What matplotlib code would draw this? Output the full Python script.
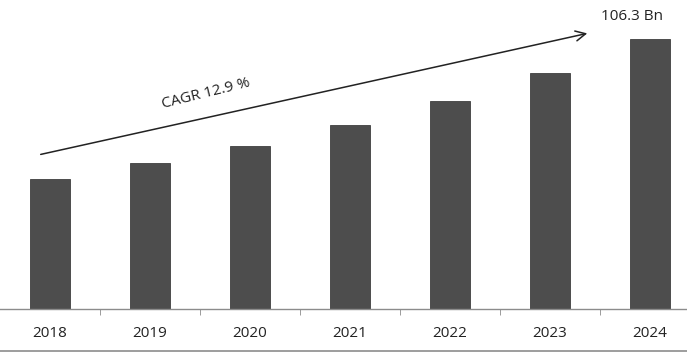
import matplotlib.pyplot as plt
import numpy as np

# data (USD Bn)
years = ['2018', '2019', '2020', '2021', '2022', '2023', '2024']
values = [51.2, 57.5, 64.2, 72.4, 81.9, 92.9, 106.3]
cagr_label = 'CAGR 12.9 %'
end_label = '106.3 Bn'

plt.rcParams['font.family'] = ['Open Sans', 'DejaVu Sans']

fig = plt.figure(figsize=(6.87, 3.52), dpi=100)
ax = fig.add_axes([0, 43 / 352, 1, 309 / 352])

x = np.arange(len(years))
ax.bar(x, values, width=0.4, color='#4d4d4d', edgecolor='#3f3f3f', linewidth=0.6)

ax.set_xlim(-0.5, 6.37)
ax.set_ylim(0, 121.6)

for s in ['top', 'right', 'left']:
    ax.spines[s].set_visible(False)
ax.spines['bottom'].set_color('#8c8c8c')
ax.spines['bottom'].set_linewidth(1)
ax.set_yticks([])

ax.set_xticks(x)
ax.set_xticklabels(years, fontsize=11, color='#222222')
ax.tick_params(axis='x', which='major', length=0, pad=12)
ax.set_xticks(x[:-1] + 0.5, minor=True)
ax.tick_params(axis='x', which='minor', length=4, color='#8c8c8c', direction='out')

# growth arrow
ax.annotate('', xy=(5.4, 108.7), xytext=(-0.12, 60.6),
            arrowprops=dict(arrowstyle='->', color='#222222', lw=1.1,
                            mutation_scale=18))
ax.text(1.56, 84.8, cagr_label, rotation=14, ha='center', va='center',
        fontsize=11, color='#222222')
ax.text(5.82, 115.0, end_label, ha='center', va='center',
        fontsize=11, color='#222222')

# bottom rule
fig.add_artist(plt.Line2D([0, 1], [1.5 / 352, 1.5 / 352], color='#8c8c8c', lw=1.2))

fig.savefig('out.png', dpi=100)
